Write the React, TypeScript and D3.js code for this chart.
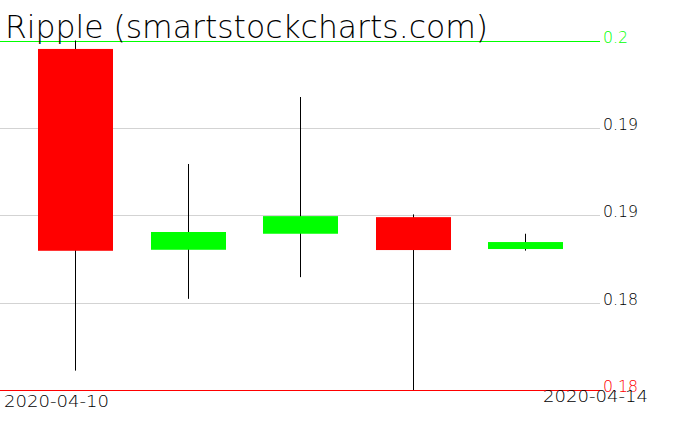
import React from "react";
import * as d3 from "d3";

// daily candles
const dates = ["2020-04-10", "2020-04-11", "2020-04-12", "2020-04-13", "2020-04-14"];
const opens = [0.19942, 0.18563, 0.18673, 0.18787, 0.18568];
const highs = [0.2, 0.19152, 0.19612, 0.18806, 0.18673];
const lows = [0.17733, 0.18226, 0.18375, 0.176, 0.18557];
const closes = [0.18556, 0.18685, 0.18794, 0.18561, 0.18616];

const tickValues = [0.2, 0.194, 0.188, 0.182, 0.176];
const title = "Ripple (smartstockcharts.com)";

const width = 676;
const height = 431;
const plotRight = 600;
const plotTop = 40.5;
const plotBottom = 390;

const fmt = (v: number) => String(parseFloat(v.toFixed(2)));

export default function App() {
  const x = d3.scalePoint<string>().domain(dates).range([0, plotRight]).padding(2 / 3);
  const y = d3
    .scaleLinear()
    .domain([d3.min(lows) as number, d3.max(highs) as number])
    .range([plotBottom, plotTop]);
  const bodyW = x.step() * (2 / 3);
  const font = "'DejaVu Sans', sans-serif";

  return (
    <svg
      width={width}
      height={height}
      style={{ position: "absolute", left: 0, top: 0, background: "#fff" }}
    >
      {/* grid + right-hand labels */}
      {tickValues.map((t, i) => {
        const last = i === tickValues.length - 1;
        const color = i === 0 ? "#00ff00" : last ? "#ff0000" : "#d3d3d3";
        const labelColor = i === 0 ? "#00ff00" : last ? "#ff0000" : "#000";
        const yy = Math.round(y(t)) + 0.5;
        return (
          <g key={i}>
            <line x1={0} x2={plotRight} y1={yy} y2={yy} stroke={color} strokeWidth={1} />
            <text
              x={603}
              y={yy + 1}
              fill={labelColor}
              fontFamily={font}
              fontWeight={200}
              fontSize={15}
              textLength={fmt(t).length === 3 ? 25 : 35}
              lengthAdjust="spacingAndGlyphs"
            >
              {fmt(t)}
            </text>
          </g>
        );
      })}

      {/* candles */}
      {dates.map((d, i) => {
        const cx = Math.round(x(d) as number) + 0.5;
        const up = closes[i] >= opens[i];
        const top = y(Math.max(opens[i], closes[i]));
        const bot = y(Math.min(opens[i], closes[i]));
        return (
          <g key={d}>
            <line x1={cx} x2={cx} y1={y(highs[i])} y2={y(lows[i])} stroke="#000" strokeWidth={1} />
            <rect
              x={cx - bodyW / 2}
              y={top}
              width={bodyW}
              height={Math.max(1, bot - top)}
              fill={up ? "#00ff00" : "#ff0000"}
            />
          </g>
        );
      })}

      <text
        x={5}
        y={38}
        fontFamily={font}
        fontWeight={200}
        fontSize={32}
        textLength={483}
        lengthAdjust="spacingAndGlyphs"
        fill="#000"
      >
        {title}
      </text>

      <text
        x={4}
        y={407}
        fontFamily={font}
        fontWeight={200}
        fontSize={16}
        textLength={105}
        lengthAdjust="spacingAndGlyphs"
        fill="#000"
      >
        {dates[0]}
      </text>
      <text
        x={543}
        y={402}
        fontFamily={font}
        fontWeight={200}
        fontSize={16}
        textLength={105}
        lengthAdjust="spacingAndGlyphs"
        fill="#000"
      >
        {dates[dates.length - 1]}
      </text>
    </svg>
  );
}
